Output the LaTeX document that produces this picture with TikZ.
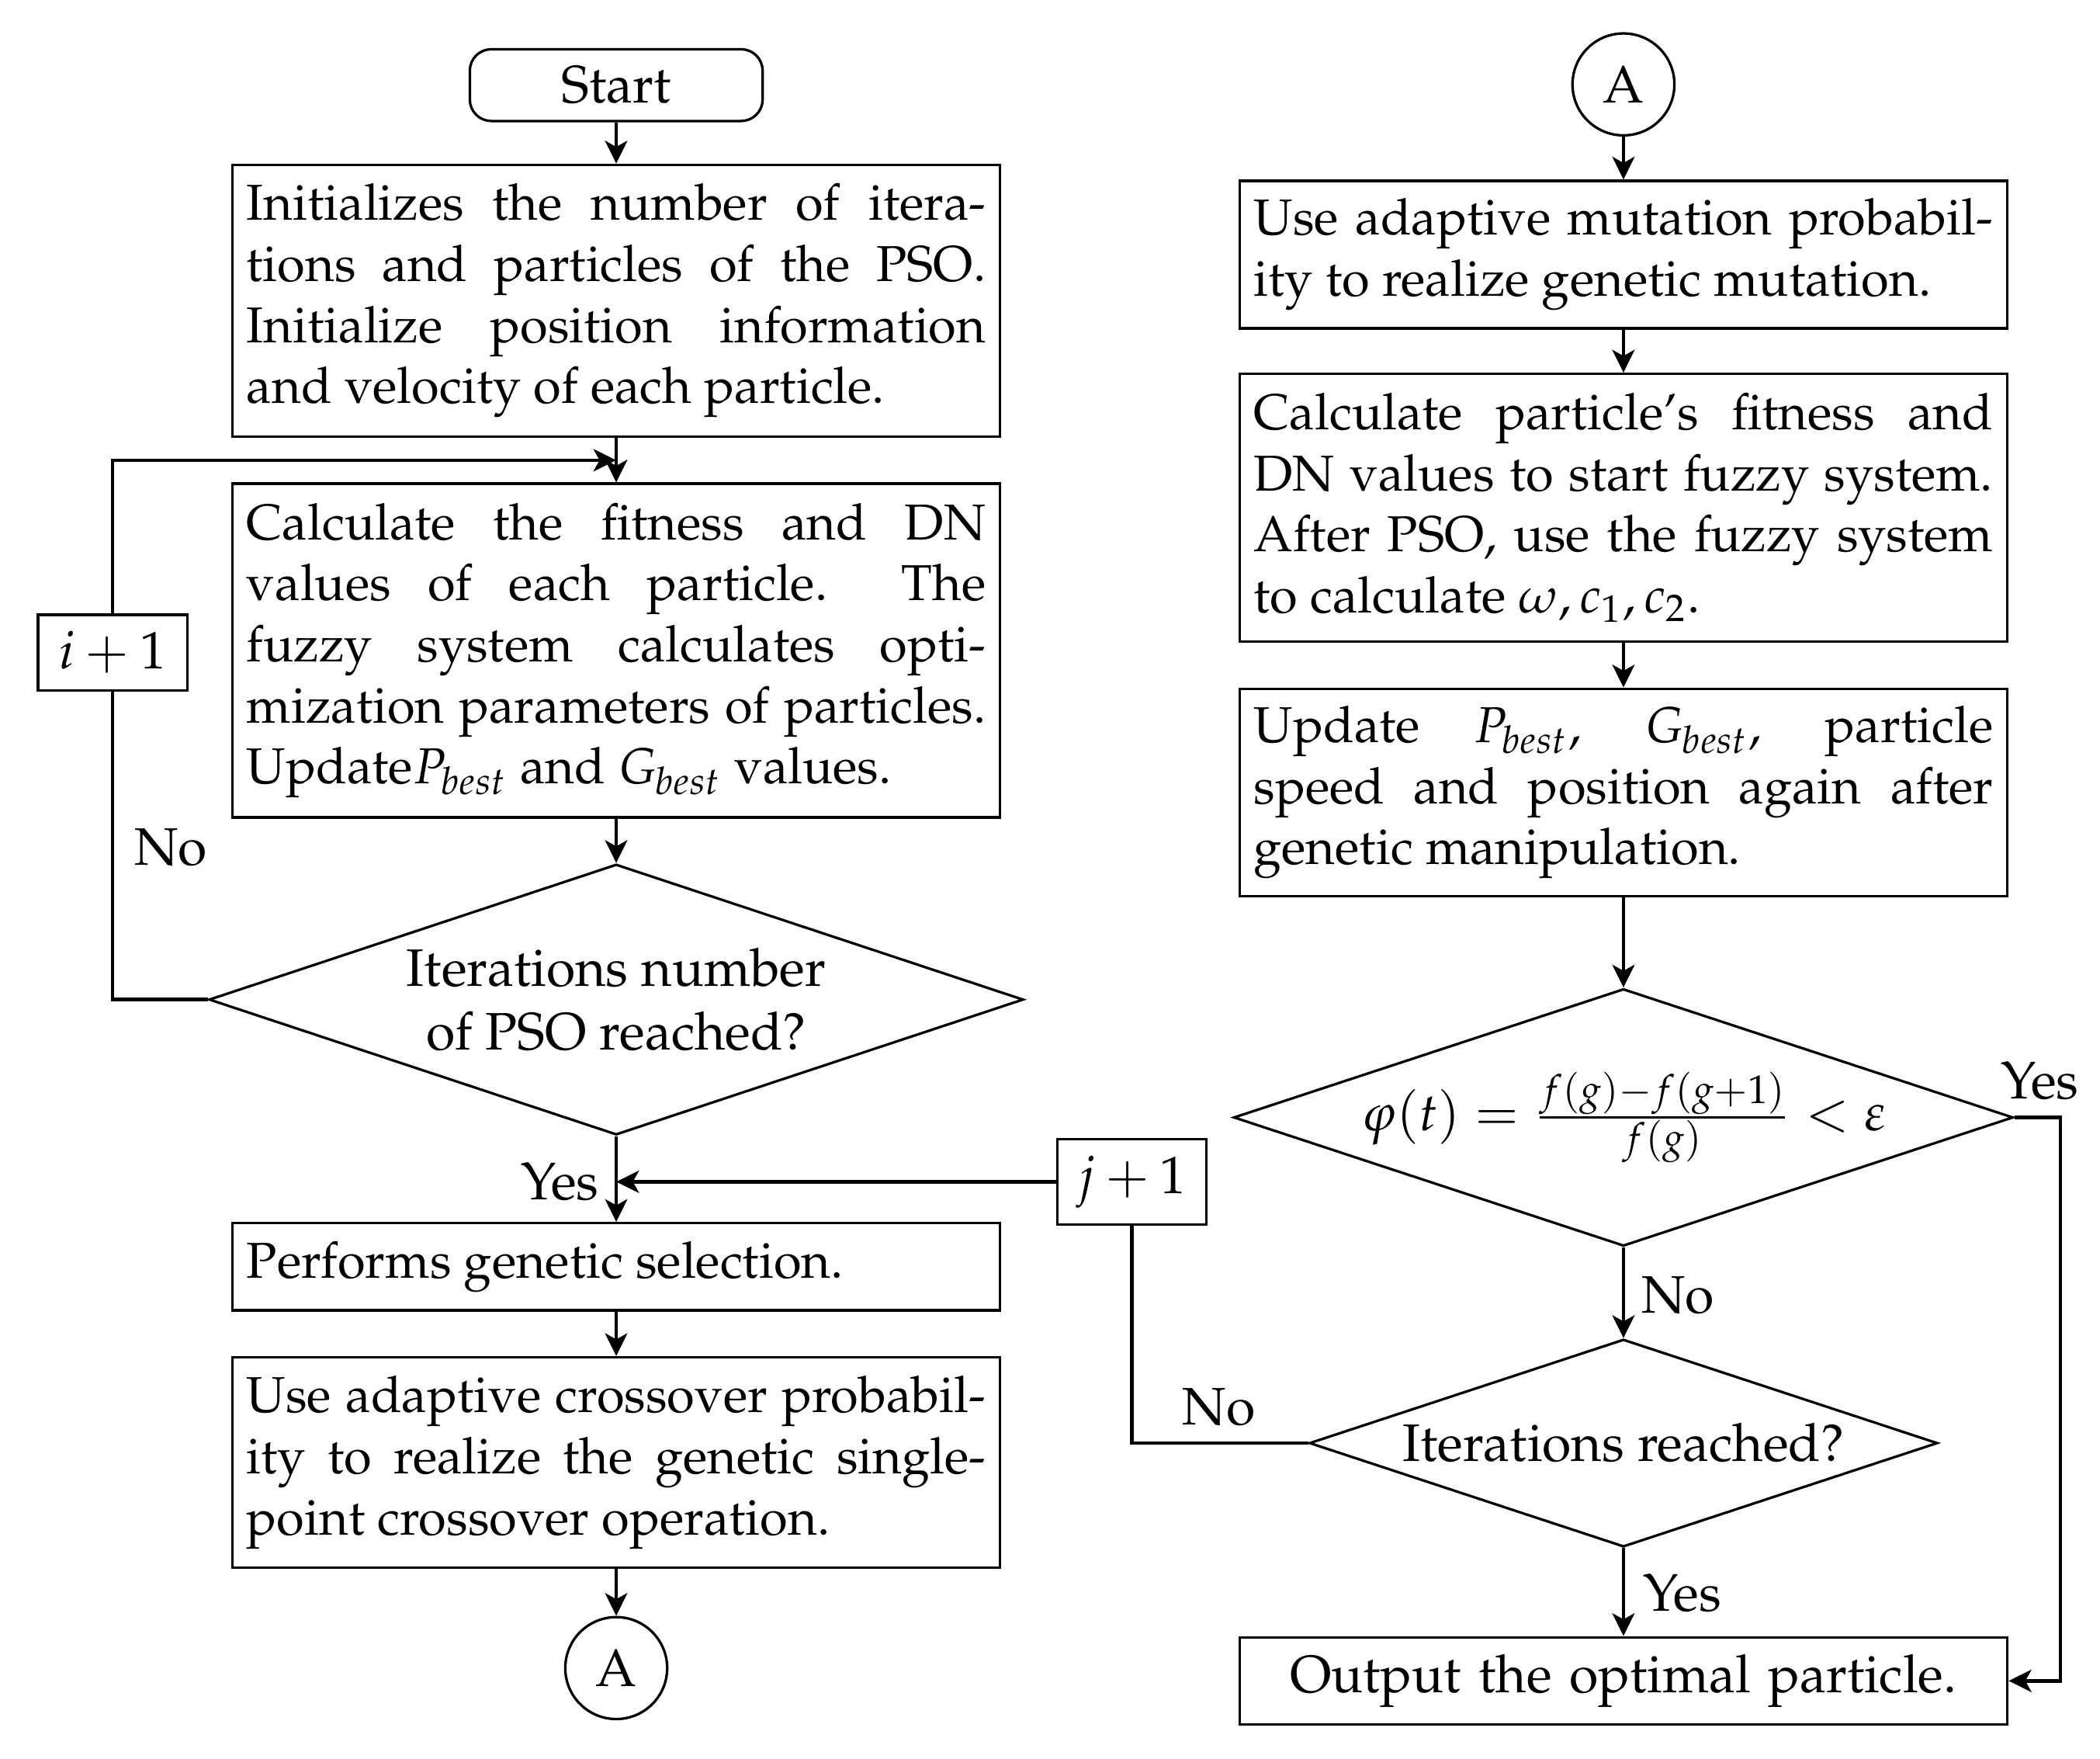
\documentclass[tikz,border=0pt]{standalone}
\usepackage[T1]{fontenc}
\usepackage{mathpazo}
\usepackage{amsmath}
\usetikzlibrary{arrows.meta,shapes.geometric,calc}

\tikzset{
  stepbox/.style={draw,line width=0.5pt,text width=5.15cm,inner xsep=0.1cm,inner ysep=0.1cm,align=justify,font=\fontsize{10}{12.1}\selectfont},
  decision/.style={draw,line width=0.5pt,diamond,inner sep=-5pt,shape aspect=3,align=center},
  counter/.style={draw,line width=0.5pt,minimum width=1.04cm,minimum height=0.5cm},
  connector/.style={draw,line width=0.5pt,circle,minimum size=0.71cm,inner sep=0pt},
  flow/.style={line width=0.7pt}
}

\begin{document}
\begin{tikzpicture}[>={Stealth[length=4.5pt,width=4.4pt,inset=1.2pt]},font=\fontsize{10.45}{12.6}\selectfont]
\useasboundingbox (0,0) rectangle (14.63,-12.25);
% left column
\node[draw,line width=0.5pt,rounded corners=0.15cm,minimum width=2.04cm,minimum height=0.5cm](start)at(4.293,-0.593){Start};
\node[stepbox,minimum height=1.894cm](init)at(4.293,-2.095){Initializes the number of itera-\linebreak tions and particles of the PSO.\linebreak Initialize position information\linebreak and velocity of each particle.};
\node[stepbox,minimum height=2.324cm](fit)at(4.293,-4.531){Calculate the fitness and DN\linebreak values of each particle.\ \ The\linebreak fuzzy system calculates opti-\linebreak mization parameters of particles.\linebreak Update$P_{best}$ and $G_{best}$ values.};
\node[decision,minimum width=5.674cm,minimum height=1.885cm](pso)at(4.293,-6.962){Iterations number\\of PSO reached?};
\node[stepbox,minimum height=0.607cm](sel)at(4.293,-8.823){Performs genetic selection.};
\node[stepbox,minimum height=1.465cm](cross)at(4.293,-10.186){Use adaptive crossover probabil-\linebreak ity to realize the genetic single-\linebreak point crossover operation.};
\node[connector](outA)at(4.293,-11.618){A};
\node[counter,fill=white](inc)at(0.785,-4.545){$i+1$};
% right column
\node[connector](inA)at(11.31,-0.588){A};
\node[stepbox,minimum height=1.027cm](mut)at(11.31,-1.773){Use adaptive mutation probabil-\linebreak ity to realize genetic mutation.};
\node[stepbox,minimum height=1.866cm](fuzzy)at(11.31,-3.537){Calculate particle's fitness and\linebreak DN values to start fuzzy system.\linebreak After PSO, use the fuzzy system\linebreak to calculate $\omega,c_1,c_2$.};
\node[stepbox,minimum height=1.446cm](upd)at(11.31,-5.520){Update $P_{best}$, $G_{best}$, particle\linebreak speed and position again after\linebreak genetic manipulation.};
\node[decision,minimum width=5.431cm,minimum height=1.792cm](conv)at(11.31,-7.783){$\varphi(t)=\frac{f(g)-f(g+1)}{f(g)}<\varepsilon$};
\node[decision,minimum width=4.377cm,minimum height=1.446cm](iter)at(11.31,-10.051){Iterations reached?};
\node[stepbox,align=center,minimum height=0.607cm,font=\fontsize{10.45}{12.6}\selectfont](out)at(11.31,-11.707){Output the optimal particle.};
\node[counter,fill=white](incj)at(7.886,-8.231){$j+1$};

% arrows
\draw[flow,->](start)--(init);
\draw[flow,->](init)--(fit);
\draw[flow,->](fit)--(pso);
\draw[flow,->](pso)--(sel);
\draw[flow,->](sel)--(cross);
\draw[flow,->](cross)--(outA);
\draw[flow](pso.west)-|(inc.south);
\draw[flow,->](inc.north)|-($(init.south)!0.5!(fit.north)$);
\draw[flow,->](inA)--(mut);
\draw[flow,->](mut)--(fuzzy);
\draw[flow,->](fuzzy)--(upd);
\draw[flow,->](upd)--(conv);
\draw[flow,->](conv)--(iter);
\draw[flow,->](iter)--(out);
\draw[flow,->](conv.east)--++(0.32,0)|-(out.east);
\draw[flow](iter.west)-|(incj.south);
\draw[flow,->](incj.west)--(incj.west-|pso.south);
% labels
\node(no1)at(1.19,-5.90){No};
\node(yes1)at(3.90,-8.23){Yes};
\node(no2)at(11.69,-9.02){No};
\node(yes2)at(11.72,-11.10){Yes};
\node(no3)at(8.49,-9.80){No};
\node(yes3)at(14.21,-7.53){Yes};
\end{tikzpicture}
\end{document}
